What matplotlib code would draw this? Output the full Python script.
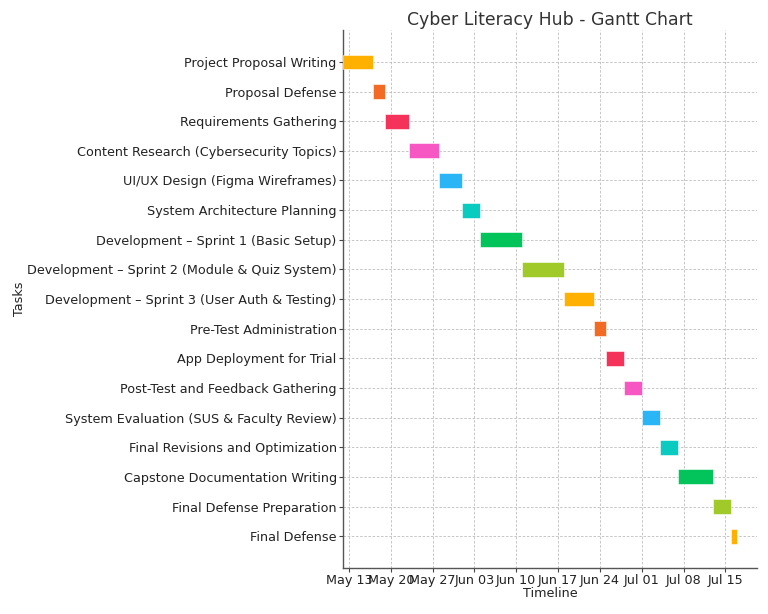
import matplotlib.pyplot as plt
import matplotlib.dates as mdates
import pandas as pd

# task list, top to bottom
tasks = [
    "Project Proposal Writing",
    "Proposal Defense",
    "Requirements Gathering",
    "Content Research (Cybersecurity Topics)",
    "UI/UX Design (Figma Wireframes)",
    "System Architecture Planning",
    "Development \u2013 Sprint 1 (Basic Setup)",
    "Development \u2013 Sprint 2 (Module & Quiz System)",
    "Development \u2013 Sprint 3 (User Auth & Testing)",
    "Pre-Test Administration",
    "App Deployment for Trial",
    "Post-Test and Feedback Gathering",
    "System Evaluation (SUS & Faculty Review)",
    "Final Revisions and Optimization",
    "Capstone Documentation Writing",
    "Final Defense Preparation",
    "Final Defense",
]
starts = ["2024-05-12", "2024-05-17", "2024-05-19", "2024-05-23", "2024-05-28",
          "2024-06-01", "2024-06-04", "2024-06-11", "2024-06-18", "2024-06-23",
          "2024-06-25", "2024-06-28", "2024-07-01", "2024-07-04", "2024-07-07",
          "2024-07-13", "2024-07-16"]
ends = ["2024-05-17", "2024-05-19", "2024-05-23", "2024-05-28", "2024-06-01",
        "2024-06-04", "2024-06-11", "2024-06-18", "2024-06-23", "2024-06-25",
        "2024-06-28", "2024-07-01", "2024-07-04", "2024-07-07", "2024-07-13",
        "2024-07-16", "2024-07-17"]
palette = ["#FFB000", "#F26A24", "#F5325A", "#F657C2",
           "#2AB6F6", "#0ACBC0", "#03C45A", "#A0CA2A"]

start_d = pd.to_datetime(starts)
end_d = pd.to_datetime(ends)
left = mdates.date2num(start_d)
width = mdates.date2num(end_d) - left
colors = [palette[i % len(palette)] for i in range(len(tasks))]

fig = plt.figure(figsize=(7.68, 6.14), dpi=100)
ax = fig.add_axes([0.4466, 0.0749, 0.5391, 0.8761])

ax.barh(range(len(tasks)), width, left=left, height=0.5, color=colors,
        edgecolor="white", linewidth=0.4, zorder=3)

fs = 9.2
ax.set_yticks(range(len(tasks)))
ax.set_yticklabels(tasks, fontsize=fs, color="#222222")
ax.invert_yaxis()

ax.xaxis.set_major_locator(mdates.WeekdayLocator(byweekday=mdates.MO))
ax.xaxis.set_major_formatter(mdates.DateFormatter("%b %d"))
ax.tick_params(axis="x", labelsize=fs, colors="#222222")
ax.tick_params(axis="both", color="#444444", length=3, width=0.8, pad=1.5)

ax.grid(True, linestyle=(0, (3, 2)), linewidth=0.6, color="#bdbdbd", zorder=0)
ax.set_axisbelow(True)

for side in ["top", "right"]:
    ax.spines[side].set_visible(False)
for side in ["left", "bottom"]:
    ax.spines[side].set_color("#555555")
    ax.spines[side].set_linewidth(1.0)

ax.set_title("Cyber Literacy Hub - Gantt Chart", fontsize=12.4, color="#333333", pad=4)
ax.set_xlabel("Timeline", fontsize=fs, color="#222222", labelpad=0)
ax.set_ylabel("Tasks", fontsize=fs, color="#222222")
ax.yaxis.set_label_coords(-0.765, 0.5)

fig.savefig("out.png", dpi=100)
